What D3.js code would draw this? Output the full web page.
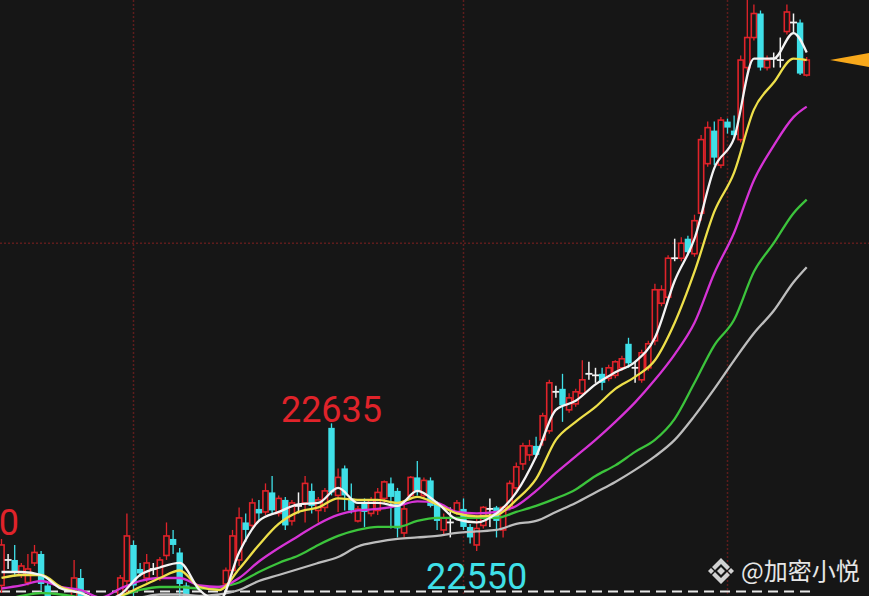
<!DOCTYPE html>
<html>
<head>
<meta charset="utf-8">
<script src="https://cdn.jsdelivr.net/npm/d3@7"></script>
<style>
  html, body { margin: 0; padding: 0; background: #161616; }
  svg { display: block; }
</style>
</head>
<body>
<div id="chart"></div>
<script>
const WIDTH = 869;
const HEIGHT = 596;

// candle values, one per bar (index 0 .. 122)
const opens = [
    22527, 22544, 22544, 22534, 22529, 22542, 22548, 22527, 22518, 22507,
    22515, 22518, 22532, 22517, 22509, 22514, 22507, 22510, 22517, 22530,
    22554, 22538, 22532, 22538, 22532, 22547, 22558, 22549, 22527, 22518,
    22510, 22516, 22509, 22514, 22528, 22537, 22544, 22569, 22567, 22578,
    22576, 22589, 22575, 22584, 22570, 22580, 22582, 22590, 22577, 22579,
    22632, 22587, 22605, 22585, 22570, 22582, 22575, 22577, 22585, 22595,
    22590, 22562, 22587, 22599, 22587, 22597, 22582, 22564, 22569, 22576,
    22578, 22566, 22554, 22567, 22578, 22579, 22564, 22579, 22592, 22608,
    22614, 22620, 22624, 22630, 22656, 22658, 22644, 22648, 22655, 22668,
    22667, 22668, 22665, 22667, 22672, 22688, 22672, 22664, 22672, 22690,
    22715, 22719, 22745, 22745, 22758, 22748, 22775, 22808, 22830, 22807,
    22836, 22830, 22824, 22872, 22892, 22908, 22872, 22878, 22877, 22896,
    22902, 22902, 22867
];
const highs = [
    22558, 22548, 22554, 22542, 22548, 22554, 22550, 22529, 22520, 22518,
    22518, 22544, 22538, 22518, 22517, 22516, 22515, 22520, 22534, 22575,
    22557, 22542, 22548, 22542, 22546, 22569, 22564, 22552, 22529, 22520,
    22518, 22517, 22517, 22520, 22539, 22564, 22579, 22575, 22585, 22584,
    22595, 22600, 22587, 22586, 22584, 22589, 22600, 22595, 22586, 22592,
    22635, 22605, 22607, 22595, 22580, 22585, 22586, 22592, 22597, 22599,
    22592, 22584, 22600, 22610, 22599, 22599, 22583, 22575, 22579, 22584,
    22585, 22568, 22574, 22580, 22585, 22580, 22580, 22597, 22609, 22622,
    22624, 22626, 22642, 22664, 22660, 22668, 22655, 22658, 22677, 22676,
    22672, 22672, 22674, 22677, 22680, 22692, 22676, 22684, 22690, 22728,
    22727, 22747, 22758, 22759, 22760, 22774, 22827, 22836, 22836, 22839,
    22838, 22840, 22880, 22920, 22914, 22910, 22880, 22882, 22892, 22914,
    22908, 22904, 22879
];
const lows = [
    22522, 22538, 22533, 22532, 22527, 22540, 22524, 22514, 22509, 22505,
    22507, 22516, 22517, 22509, 22507, 22506, 22505, 22509, 22515, 22522,
    22520, 22533, 22529, 22534, 22530, 22544, 22548, 22520, 22514, 22510,
    22509, 22508, 22508, 22510, 22525, 22534, 22540, 22556, 22564, 22570,
    22574, 22575, 22573, 22564, 22567, 22575, 22569, 22575, 22569, 22576,
    22587, 22576, 22577, 22575, 22569, 22566, 22573, 22574, 22582, 22565,
    22559, 22559, 22584, 22587, 22585, 22579, 22564, 22560, 22559, 22574,
    22564, 22555, 22550, 22565, 22566, 22559, 22559, 22577, 22590, 22604,
    22610, 22612, 22620, 22628, 22652, 22636, 22642, 22646, 22653, 22664,
    22662, 22657, 22663, 22665, 22670, 22672, 22662, 22662, 22670, 22687,
    22713, 22717, 22743, 22743, 22747, 22746, 22770, 22806, 22807, 22805,
    22828, 22825, 22822, 22870, 22890, 22870, 22870, 22872, 22872, 22894,
    22895, 22867, 22866
];
const closes = [
    22554, 22544, 22536, 22540, 22538, 22549, 22528, 22517, 22510, 22516,
    22509, 22532, 22520, 22510, 22515, 22507, 22514, 22518, 22532, 22560,
    22527, 22535, 22542, 22538, 22544, 22560, 22554, 22528, 22517, 22512,
    22517, 22509, 22516, 22518, 22537, 22560, 22572, 22564, 22582, 22575,
    22590, 22577, 22585, 22567, 22582, 22580, 22595, 22580, 22584, 22590,
    22589, 22599, 22587, 22577, 22578, 22576, 22584, 22589, 22596, 22586,
    22565, 22578, 22599, 22590, 22597, 22580, 22570, 22572, 22569, 22582,
    22566, 22559, 22565, 22579, 22578, 22570, 22579, 22595, 22606, 22620,
    22620, 22614, 22640, 22662, 22656, 22647, 22652, 22656, 22664, 22668,
    22667, 22662, 22672, 22676, 22678, 22675, 22672, 22682, 22688, 22724,
    22724, 22745, 22745, 22755, 22749, 22770, 22824, 22832, 22812, 22837,
    22832, 22827, 22877, 22892, 22908, 22872, 22877, 22878, 22877, 22909,
    22902, 22868, 22877
];

// moving averages at these bar indexes
const maIndex = [
    0, 3, 6, 9, 12, 15, 18, 21, 24, 27, 30, 33, 36, 39, 42, 45, 48, 51, 54, 57,
    60, 63, 66, 69, 72, 75, 78, 81, 84, 87, 90, 93, 96, 99, 102, 105, 108, 111,
    114, 117, 120, 122
];
const ma5 = [
    22536, 22536, 22534, 22525, 22522, 22517, 22521, 22534, 22539, 22542,
    22524, 22517, 22549, 22570, 22576, 22581, 22582, 22592, 22582, 22582,
    22580, 22590, 22582, 22571, 22569, 22575, 22589, 22613, 22644, 22650,
    22661, 22669, 22676, 22692, 22730, 22758, 22805, 22825, 22878, 22878,
    22895, 22882
];
const ma10 = [
    22532, 22534, 22534, 22526, 22522, 22517, 22520, 22526, 22532, 22537,
    22526, 22524, 22538, 22554, 22568, 22576, 22579, 22585, 22584, 22584,
    22582, 22586, 22581, 22575, 22573, 22574, 22584, 22598, 22624, 22636,
    22646, 22658, 22666, 22677, 22702, 22736, 22776, 22802, 22844, 22862,
    22878, 22877
];
const ma20 = [
    22525, 22527, 22530, 22526, 22524, 22519, 22525, 22530, 22532, 22532,
    22527, 22526, 22532, 22543, 22552, 22560, 22568, 22574, 22577, 22578,
    22580, 22583, 22582, 22576, 22575, 22576, 22580, 22590, 22602, 22613,
    22624, 22636, 22649, 22664, 22681, 22702, 22735, 22762, 22797, 22820,
    22839, 22846
];
const ma30 = [
    22517, 22520, 22522, 22521, 22519, 22517, 22520, 22524, 22526, 22526,
    22525, 22526, 22529, 22536, 22542, 22547, 22554, 22560, 22564, 22566,
    22566, 22570, 22572, 22572, 22572, 22572, 22576, 22580, 22585, 22591,
    22600, 22607, 22616, 22624, 22638, 22662, 22687, 22704, 22736, 22755,
    22775, 22784
];
const ma60 = [
    22514, 22514, 22514, 22514, 22515, 22516, 22517, 22519, 22521, 22521,
    22520, 22521, 22524, 22530, 22534, 22538, 22542, 22546, 22553, 22556,
    22558, 22559, 22560, 22562, 22563, 22564, 22568, 22570, 22576, 22582,
    22589, 22596, 22604, 22613, 22624, 22640, 22658, 22677, 22695, 22710,
    22729, 22739
];

// extreme-price labels: bar index and price
const highLabels = [{ i: -5, v: 22560 }, { i: 50, v: 22635 }];
const lowLabels = [{ i: 72, v: 22550 }];

// separators
const gridBars = [20, 70, 110];
const gridPrices = [22755];
const dashPrice = 22523;

const RED = '#e0232a';
const CYAN = '#3fe0e8';
const WHITE = '#f2f2f2';
const BG = '#161616';

const MA_STYLES = [
    { values: ma60, color: '#bdbdbd' },
    { values: ma30, color: '#3cc43c' },
    { values: ma20, color: '#d633d6' },
    { values: ma10, color: '#eee04a' },
    { values: ma5, color: '#f4f4f4' }
];

function drawChart() {
    const svg = d3.select('#chart').append('svg').attr('width', WIDTH).attr('height', HEIGHT);

    svg.append('rect').attr('width', WIDTH).attr('height', HEIGHT).attr('fill', BG);

    const xScale = d3.scaleLinear().domain([0, 122]).range([1.5, 806.7]);
    const yScale = d3.scaleLinear().domain([22520, 22917]).range([HEIGHT, 0]);

    // dotted red grid
    const grid = svg.append('g')
        .attr('stroke', '#5e1c1c')
        .attr('stroke-width', 1.5)
        .attr('stroke-dasharray', '2,2');

    grid.selectAll('.vg')
        .data(gridBars)
        .enter()
        .append('line')
        .attr('x1', (d) => xScale(d))
        .attr('x2', (d) => xScale(d))
        .attr('y1', 0)
        .attr('y2', HEIGHT);

    grid.selectAll('.hg')
        .data(gridPrices)
        .enter()
        .append('line')
        .attr('x1', 0)
        .attr('x2', WIDTH)
        .attr('y1', (d) => yScale(d))
        .attr('y2', (d) => yScale(d));

    // bottom dashed level
    svg.append('line')
        .attr('x1', 0)
        .attr('x2', 815)
        .attr('y1', yScale(dashPrice))
        .attr('y2', yScale(dashPrice))
        .attr('stroke', '#e6e6e6')
        .attr('stroke-width', 2)
        .attr('stroke-dasharray', '10,6');

    // candles
    const bars = opens.map((o, i) => ({ i, o, h: highs[i], l: lows[i], c: closes[i] }));
    const candles = svg.append('g');
    const half = 2.6;

    bars.forEach((b) => {
        const cx = xScale(b.i);
        const yo = yScale(b.o);
        const yc = yScale(b.c);
        const yh = yScale(b.h);
        const yl = yScale(b.l);

        if (b.c > b.o) {
            // rising: hollow red body
            candles.append('line').attr('x1', cx).attr('x2', cx).attr('y1', yh).attr('y2', yc)
                .attr('stroke', RED).attr('stroke-width', 1.3);
            candles.append('line').attr('x1', cx).attr('x2', cx).attr('y1', yo).attr('y2', yl)
                .attr('stroke', RED).attr('stroke-width', 1.3);
            candles.append('rect')
                .attr('x', cx - half)
                .attr('y', yc)
                .attr('width', half * 2)
                .attr('height', Math.max(1, yo - yc))
                .attr('fill', BG)
                .attr('stroke', RED)
                .attr('stroke-width', 1.6);
        } else if (b.c < b.o) {
            // falling: filled cyan body
            candles.append('line').attr('x1', cx).attr('x2', cx).attr('y1', yh).attr('y2', yl)
                .attr('stroke', CYAN).attr('stroke-width', 1.3);
            candles.append('rect')
                .attr('x', cx - half - 0.6)
                .attr('y', yo)
                .attr('width', half * 2 + 1.2)
                .attr('height', Math.max(1, yc - yo))
                .attr('fill', CYAN);
        } else {
            // flat: white cross
            candles.append('line').attr('x1', cx).attr('x2', cx).attr('y1', yh).attr('y2', yl)
                .attr('stroke', WHITE).attr('stroke-width', 1.5);
            candles.append('line').attr('x1', cx - 3.5).attr('x2', cx + 3.5).attr('y1', yo).attr('y2', yo)
                .attr('stroke', WHITE).attr('stroke-width', 1.8);
        }
    });

    // moving averages
    const line = d3.line()
        .x((d) => xScale(d[0]))
        .y((d) => yScale(d[1]))
        .curve(d3.curveMonotoneX);

    MA_STYLES.forEach((s) => {
        svg.append('path')
            .datum(maIndex.map((idx, k) => [idx, s.values[k]]))
            .attr('d', line)
            .attr('fill', 'none')
            .attr('stroke', s.color)
            .attr('stroke-width', 2.3);
    });

    // extreme labels
    svg.selectAll('.hl')
        .data(highLabels)
        .enter()
        .append('text')
        .attr('x', (d) => xScale(d.i))
        .attr('y', (d) => yScale(d.v) - 1)
        .attr('text-anchor', 'middle')
        .attr('font-family', 'Roboto, sans-serif')
        .attr('font-size', 36)
        .attr('fill', RED)
        .text((d) => d.v);

    svg.selectAll('.ll')
        .data(lowLabels)
        .enter()
        .append('text')
        .attr('x', (d) => xScale(d.i))
        .attr('y', (d) => yScale(d.v) + 38)
        .attr('text-anchor', 'middle')
        .attr('font-family', 'Roboto, sans-serif')
        .attr('font-size', 36)
        .attr('fill', CYAN)
        .text((d) => d.v);

    // last price marker
    const lastY = yScale(closes[closes.length - 1]);
    svg.append('path')
        .attr('d', `M830,${lastY} L869,${lastY - 7} L869,${lastY + 7} Z`)
        .attr('fill', '#f7a81b');

    // watermark
    const mark = svg.append('g').attr('transform', 'translate(721, 571)').attr('fill', '#d2d2d2');
    mark.append('path').attr('d', 'M0,-4 L4,0 L0,4 L-4,0 Z');
    mark.append('path').attr('d', 'M-10,-3 L-7,0 L-10,3 L-13,0 Z');
    mark.append('path').attr('d', 'M10,-3 L13,0 L10,3 L7,0 Z');
    mark.append('path').attr('d', 'M-9,-4 L0,-13 L9,-4 L6,-1 L0,-7 L-6,-1 Z');
    mark.append('path').attr('d', 'M-9,4 L0,13 L9,4 L6,1 L0,7 L-6,1 Z');

    svg.append('text')
        .attr('x', 741)
        .attr('y', 580)
        .attr('font-family', '"Noto Sans CJK SC", sans-serif')
        .attr('font-size', 24)
        .attr('fill', '#e6e6e6')
        .text('@加密小悦');
}

window.addEventListener('DOMContentLoaded', drawChart);
</script>
</body>
</html>
